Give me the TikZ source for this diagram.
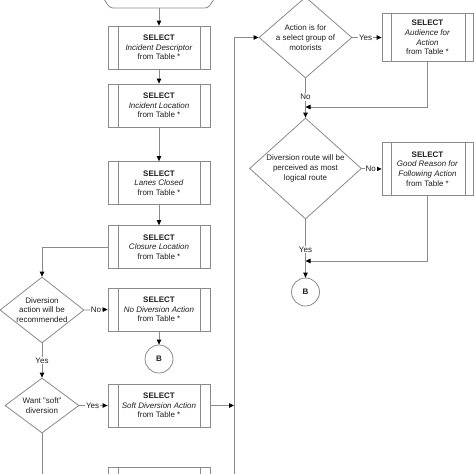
\documentclass[tikz,border=0pt]{standalone}
\usepackage{fontspec}
\setmainfont{Liberation Sans}
\usetikzlibrary{arrows.meta,shapes.geometric}
\definecolor{ln}{HTML}{8A8A8A}
\definecolor{tx}{HTML}{1E1E1E}
\begin{document}
\begin{tikzpicture}[x=1pt,y=-1pt,
  every node/.style={font=\fontsize{8}{9.7}\selectfont, text=tx},
  selL/.style={draw=ln, line width=0.8pt, minimum width=102pt, minimum height=43pt, inner sep=0pt, align=center,
    path picture={\draw[ln, line width=0.8pt]
      ([xshift=10pt]path picture bounding box.north west) -- ([xshift=10pt]path picture bounding box.south west)
      ([xshift=-10pt]path picture bounding box.north east) -- ([xshift=-10pt]path picture bounding box.south east);}},
  selR/.style={draw=ln, line width=0.8pt, minimum width=91pt, inner sep=0pt, align=center,
    path picture={\draw[ln, line width=0.8pt]
      ([xshift=9pt]path picture bounding box.north west) -- ([xshift=9pt]path picture bounding box.south west)
      ([xshift=-8pt]path picture bounding box.north east) -- ([xshift=-8pt]path picture bounding box.south east);}},
  dia/.style={diamond, draw=ln, line width=0.8pt, inner sep=0pt},
  dtxt/.style={align=center, inner sep=0pt},
  con/.style={circle, draw=ln, line width=0.8pt, minimum size=28pt, inner sep=0pt, font=\fontsize{8}{9.7}\selectfont\bfseries},
  line/.style={draw=ln, line width=0.8pt},
  arr/.style={line, -{Triangle[length=5pt,width=4.5pt,color=black]}},
  lab/.style={fill=white, inner sep=1pt}
]
\useasboundingbox (0,0) rectangle (474,474);
\clip (0,0) rectangle (474,474);

% start shape (cut off at top)
\draw[line, rounded corners=3pt] (99,-8) -- (110,8) -- (208,8) -- (219,-8);
\coordinate (start) at (159,8);

% left column boxes
\node[selL] (b1) at (159,47.5) {\textbf{SELECT}\\\textit{Incident Descriptor}\\from Table *};
\node[selL] (b2) at (159,105.5) {\textbf{SELECT}\\\textit{Incident Location}\\from Table *};
\node[selL] (b3) at (159,183) {\textbf{SELECT}\\\textit{Lanes Closed}\\from Table *};
\node[selL] (b4) at (159,247) {\textbf{SELECT}\\\textit{Closure Location}\\from Table *};
\node[selL] (b5) at (159,309.5) {\textbf{SELECT}\\\textit{No Diversion Action}\\from Table *};
\node[selL] (b6) at (159,405.5) {\textbf{SELECT}\\\textit{Soft Diversion Action}\\from Table *};
\node[selL] (b7) at (159,488.5) {};

% left diamonds
\node[dia, minimum width=84pt, minimum height=66pt] (d1) at (42,310) {};
\node[dtxt] (d1t) at (d1) {Diversion\\action will be\\recommended};
\node[dia, minimum width=74pt, minimum height=55pt] (d2) at (42,405.5) {};
\node[dtxt] (d2t) at (d2) {Want "soft"\\diversion};

\node[con] (B1) at (159,359) {B};

% right column
\node[dia, minimum width=93pt, minimum height=81pt] (d3) at (305.5,37.5) {};
\node[dtxt] (d3t) at (d3) {Action is for\\a select group of\\motorists};
\node[selR, minimum height=48pt] (b8) at (427.5,37.5) {\textbf{SELECT}\\\textit{Audience for}\\\textit{Action}\\from Table *};
\node[dia, minimum width=112pt, minimum height=101pt] (d4) at (305.5,168.5) {};
\node[dtxt] (d4t) at (d4) {Diversion route will be\\perceived as most\\logical route};
\node[selR, minimum height=53pt] (b9) at (427.5,169) {\textbf{SELECT}\\\textit{Good Reason for}\\\textit{Following Action}\\from Table *};
\node[con] (B2) at (305.5,292) {B};

\coordinate (j1) at (305.5,107);
\coordinate (j2) at (305.5,261);
\coordinate (lb) at (42,476);
\coordinate (rb) at (234,476);
\coordinate (rt) at (234,37.5);
\coordinate (rj) at (234,405.5);

% connectors left
\draw[arr] (start) -- (b1.north);
\draw[arr] (b1) -- (b2);
\draw[arr] (b2) -- (b3);
\draw[arr] (b3) -- (b4);
\draw[arr] (b4.west) -| (d1.north);
\draw[arr] (d1.east) -- node[lab, pos=0.5] {No} (b5.west);
\draw[arr] (b5) -- (B1);
\draw[arr] (d1.south) -- node[lab] {Yes} (d2.north);
\draw[arr] (d2.east) -- node[lab, pos=0.47] {Yes} (b6.west);
\draw[arr] (b6.east) -- (rj);
\draw[line] (d2.south) -- (lb);

% connectors right
\draw[arr] (rb) -- (rt) -- (d3.west);
\draw[arr] (d3.east) -- node[lab, pos=0.45] {Yes} (b8.west);
\draw[arr] (d3.south) -- node[lab, pos=0.47] {No} (d4.north);
\draw[arr] (b8.south) |- (j1);
\draw[arr] (d4.east) -- node[lab, pos=0.45] {No} (b9.west);
\draw[arr] (b9.south) |- (j2);
\draw[arr] (d4.south) -- node[lab, pos=0.52] {Yes} (B2.north);
\end{tikzpicture}
\end{document}
